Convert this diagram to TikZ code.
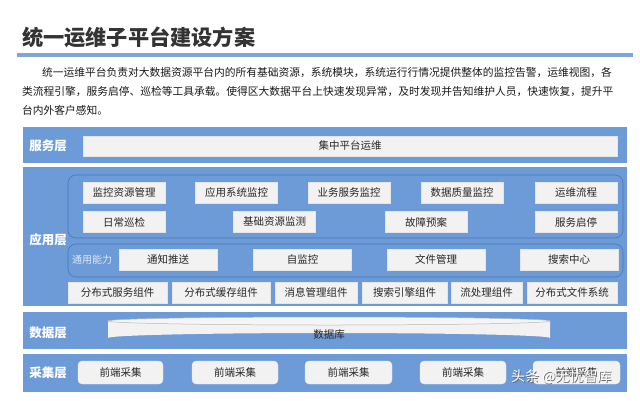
\documentclass[tikz,border=0pt]{standalone}
\usepackage{fontspec}
\setmainfont{Noto Sans CJK SC}
\definecolor{bandblue}{HTML}{6C9BD7}
\definecolor{groupline}{HTML}{4A78B8}
\definecolor{boxgray}{HTML}{F2F2F2}
\definecolor{titleblue}{HTML}{7EA6D9}
\definecolor{titlegray}{HTML}{333333}
\definecolor{capblue}{HTML}{DDE7F4}
\definecolor{dbline}{HTML}{B8B8B8}
\tikzset{
  layerband/.style={fill=bandblue, draw=none, inner sep=0pt, minimum width=604pt},
  layerlabel/.style={text=white, font=\fontsize{12.5}{14}\selectfont\bfseries, inner sep=0pt},
  groupbox/.style={fill=bandblue, draw=groupline, line width=0.6pt, rounded corners=8pt, inner sep=0pt, minimum width=555pt},
  bx/.style={fill=boxgray, draw=white!90!black, line width=0.3pt, inner sep=0pt, minimum height=21pt, text=black!85, font=\fontsize{10.5}{12}\selectfont},
  cbx/.style={bx, rounded corners=4pt, minimum height=23pt},
  paraline/.style={anchor=west, inner sep=0pt, text=black!90, font=\fontsize{10.75}{12}\selectfont},
}
\begin{document}
\begin{tikzpicture}[x=1pt,y=-1pt]
\useasboundingbox (0,0) rectangle (640,400);
\fill[white] (0,0) rectangle (640,400);

% title
\node[anchor=west, inner sep=0pt, text=titlegray, font=\fontsize{21.2}{24}\selectfont\bfseries] (title) at (22,37) {统一运维子平台建设方案};
\draw[titleblue, line width=4pt] (17,55) -- (633,55);

% paragraph
\node[paraline] (p1) at (42,73) {统一运维平台负责对大数据资源平台内的所有基础资源，系统模块，系统运行行情况提供整体的监控告警，运维视图，各};
\node[paraline] (p2) at (22,92) {类流程引擎，服务启停、巡检等工具承载。使得区大数据平台上快速发现异常，及时发现并告知维护人员，快速恢复，提升平};
\node[paraline] (p3) at (22,110) {台内外客户感知。};

% bands
\node[layerband, minimum height=36pt] (svcband) at (325,145) {};
\node[layerband, minimum height=139pt] (appband) at (325,236.5) {};
\node[layerband, minimum height=37pt] (databand) at (325,330.5) {};
\node[layerband, minimum height=38pt] (colband) at (325,373) {};

\node[layerlabel] (svclabel) at (48,146) {服务层};
\node[layerlabel] (applabel) at (48,240) {应用层};
\node[layerlabel] (datalabel) at (48,333) {数据层};
\node[layerlabel] (collabel) at (48,373) {采集层};

% service layer
\node[bx, minimum width=534pt, minimum height=20pt] (svc) at (350,146) {集中平台运维};

% application layer groups
\node[groupbox, minimum height=63pt] (g1) at (345.5,206.5) {};
\node[groupbox, minimum height=33pt] (g2) at (345.5,260.5) {};

\node[bx, minimum width=82pt] (a1) at (124,192.5) {监控资源管理};
\node[bx, minimum width=82pt] (a2) at (236.5,192.5) {应用系统监控};
\node[bx, minimum width=82pt] (a3) at (349,192.5) {业务服务监控};
\node[bx, minimum width=82pt] (a4) at (462,192.5) {数据质量监控};
\node[bx, minimum width=82pt] (a5) at (576,192.5) {运维流程};

\node[bx, minimum width=82pt] (b1) at (124,222) {日常巡检};
\node[bx, minimum width=82pt] (b2) at (274.5,222) {基础资源监测};
\node[bx, minimum width=82pt] (b3) at (426,222) {故障预案};
\node[bx, minimum width=82pt] (b4) at (576,222) {服务启停};

\node[inner sep=0pt, text=capblue, font=\fontsize{10}{12}\selectfont] (cap) at (92,260) {通用能力};
\node[bx, minimum width=98pt] (c1) at (168,259.5) {通知推送};
\node[bx, minimum width=98pt] (c2) at (302.5,259.5) {自监控};
\node[bx, minimum width=98pt] (c3) at (436,259.5) {文件管理};
\node[bx, minimum width=98pt] (c4) at (569,259.5) {搜索中心};

\node[bx, minimum width=99pt] (d1) at (117.5,292.5) {分布式服务组件};
\node[bx, minimum width=98pt] (d2) at (221,292.5) {分布式缓存组件};
\node[bx, minimum width=82pt] (d3) at (316,292.5) {消息管理组件};
\node[bx, minimum width=85pt] (d4) at (404.5,292.5) {搜索引擎组件};
\node[bx, minimum width=71pt] (d5) at (486.5,292.5) {流处理组件};
\node[bx, minimum width=90pt] (d6) at (572,292.5) {分布式文件系统};

% data layer: database disk
\fill[boxgray] (108,321) -- (108,338) arc[start angle=180, end angle=360, x radius=221pt, y radius=-5pt] -- (550,321) -- cycle;
\filldraw[fill=white!96!black, draw=dbline, line width=0.5pt] (329,321) ellipse[x radius=221pt, y radius=4pt];
\node[inner sep=0pt, text=black!85, font=\fontsize{10.5}{12}\selectfont] (db) at (329,335) {数据库};

% collection layer
\node[cbx, minimum width=85pt] (e1) at (120.5,372.5) {前端采集};
\node[cbx, minimum width=86pt] (e2) at (235,372.5) {前端采集};
\node[cbx, minimum width=87pt] (e3) at (348.5,372.5) {前端采集};
\node[cbx, minimum width=86pt] (e4) at (463,372.5) {前端采集};
\node[cbx, minimum width=87pt] (e5) at (576.5,372.5) {前端采集};

% watermark
\node[anchor=west, inner sep=0pt, text=black!60, font=\fontsize{14}{16}\selectfont] (wmshadow) at (511.8,377.8) {头条 @无忧智库};
\node[anchor=west, inner sep=0pt, text=white, font=\fontsize{14}{16}\selectfont] (wm) at (511,377) {头条 @无忧智库};
\end{tikzpicture}
\end{document}
